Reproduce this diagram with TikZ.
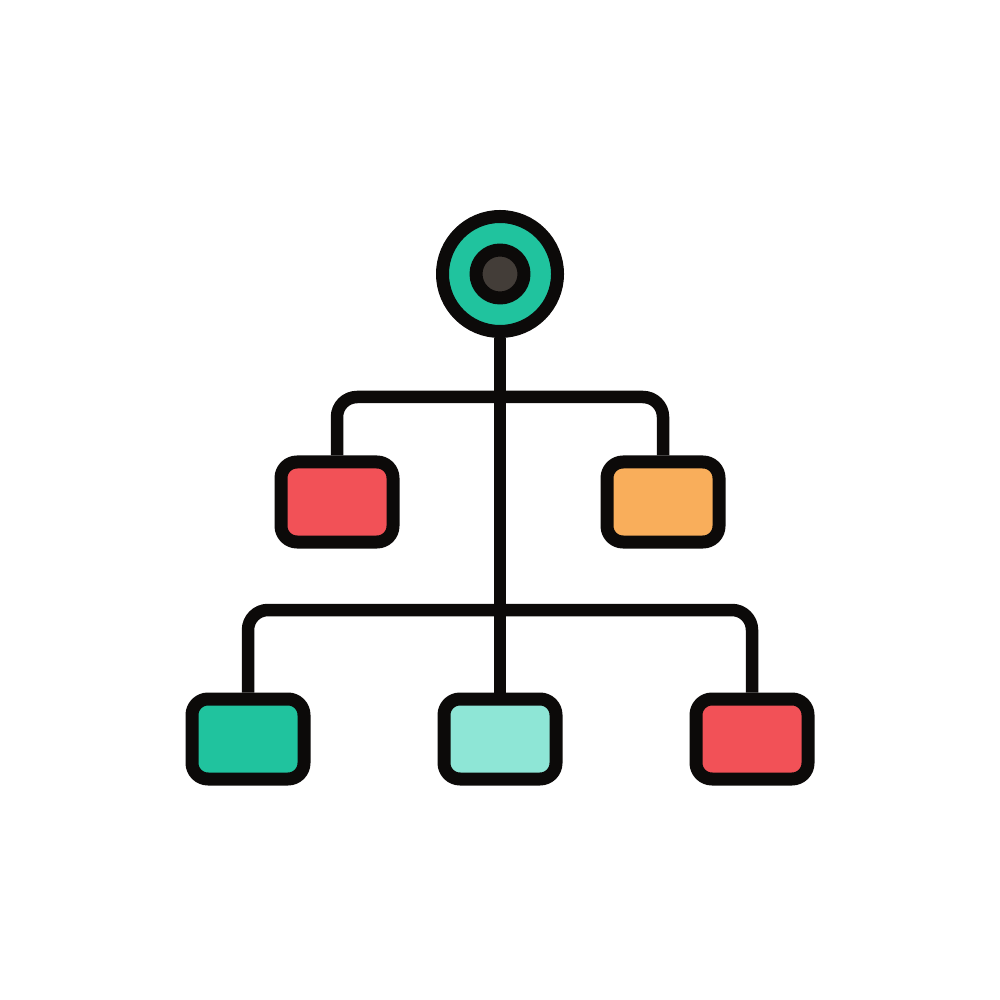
\documentclass[tikz,border=0pt]{standalone}
\definecolor{ink}{HTML}{0C0A09}
\definecolor{tealA}{HTML}{20C39E}
\definecolor{tealB}{HTML}{8EE6D6}
\definecolor{redA}{HTML}{F25157}
\definecolor{orangeA}{HTML}{F9AE5B}
\definecolor{core}{HTML}{433D38}
\begin{document}
\begin{tikzpicture}[line join=round, line cap=butt,
	box/.style={draw=ink, line width=0.13cm, rounded corners=0.16cm, inner sep=0pt, minimum width=1.12cm, minimum height=0.8cm},
	wire/.style={draw=ink, line width=0.125cm, rounded corners=0.2cm}]
			\def\ya{-3.97} \def\yb{-6.10} % thanh ngang
			\useasboundingbox (0,0) rectangle (10,-10);
			\node[circle, draw=ink, fill=tealA, line width=0.13cm, minimum size=1.15cm, inner sep=0pt] (root) at (5,-2.74) {};
			\node[circle, draw=ink, fill=core, line width=0.13cm, minimum size=0.48cm, inner sep=0pt] (dot) at (root) {};
			\node[box, fill=redA] (ul) at (3.37,-5.02) {};
			\node[box, fill=orangeA] (ur) at (6.63,-5.02) {};
			\node[box, fill=tealA] (bl) at (2.48,-7.39) {};
			\node[box, fill=tealB] (bm) at (5,-7.39) {};
			\node[box, fill=redA] (br) at (7.52,-7.39) {};
			\coordinate (barA) at (5,\ya);
			\coordinate (barB) at (5,\yb);
			\draw[wire] (root.south) -- (bm.north);
			\draw[wire] (ul.north) |- (barA) -| (ur.north);
			\draw[wire] (bl.north) |- (barB) -| (br.north);
	\end{tikzpicture}
\end{document}
